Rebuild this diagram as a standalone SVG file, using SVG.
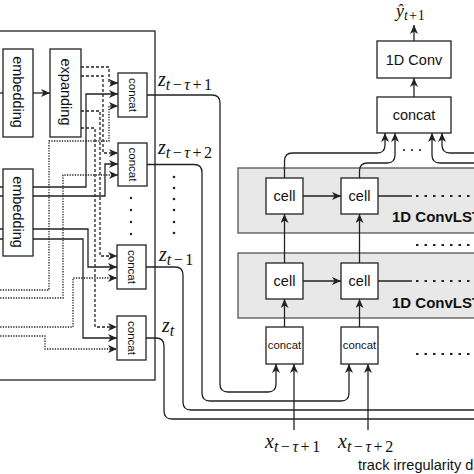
<svg xmlns="http://www.w3.org/2000/svg" width="474" height="474" viewBox="0 0 474 474">
<style>
.box{fill:#fff;stroke:#222;stroke-width:1.3}
.panel{fill:#e8e8e8;stroke:#555;stroke-width:1.3}
.ln{fill:none;stroke:#222;stroke-width:1.3}
.arr{marker-end:url(#ah)}
.dash{stroke-dasharray:3 2}
.dot{stroke-dasharray:1.3 1.3}
.dots{fill:none;stroke:#222;stroke-width:2.2;stroke-dasharray:2.5 6}
.sans{font-family:"Liberation Sans",Arial,sans-serif;fill:#111}
.bold{font-weight:bold}
.math{font-family:"Liberation Serif","Times New Roman",serif;font-style:italic;fill:#111}
.up{font-style:normal}
</style>
<defs>
<marker id="ah" markerUnits="userSpaceOnUse" markerWidth="10" markerHeight="8" refX="9" refY="4" orient="auto">
<path d="M0,0 L9,4 L0,8 L2.5,4 z" fill="#222"/>
</marker>
</defs>

<rect id="outer" x="-10" y="31" width="165" height="349" fill="none" stroke="#222" stroke-width="1.3"/>

<g id="panel1"><rect class="panel" x="238" y="168" width="250" height="65"/>
<text class="sans bold" x="392" y="222" font-size="15">1D ConvLSTM</text></g>
<g id="panel2"><rect class="panel" x="238" y="253" width="250" height="65"/>
<text class="sans bold" x="392" y="308" font-size="15">1D ConvLSTM</text></g>

<g id="connectors">
<path class="ln" d="M-5,93 H3"/>
<path class="ln" d="M-5,187 H3 M-5,196 H3 M-5,229 H3 M-5,239 H3"/>
<path class="ln arr" d="M33,93 H50"/>
<path class="ln dash arr" d="M81,67 H109 V83 H118"/>
<path class="ln arr" d="M33,187 H86 V94 H118"/>
<path class="ln dot arr" d="M-5,290 H49 V141 H109 V106 H118"/>
<path class="ln dash arr" d="M81,76 H103 V153 H118"/>
<path class="ln arr" d="M33,196 H105 V164 H118"/>
<path class="ln dot arr" d="M-5,298 H63 V175 H118"/>
<path class="ln dash arr" d="M81,111 H100 V256 H117"/>
<path class="ln arr" d="M33,229 H88 V267 H117"/>
<path class="ln dot arr" d="M-5,327 H73 V278 H117"/>
<path class="ln dash arr" d="M81,128 H95 V327 H117"/>
<path class="ln arr" d="M33,239 H83 V338 H117"/>
<path class="ln dot arr" d="M-5,336 H45 V349 H117"/>
<path class="ln arr" d="M147,95 H212 Q220,95 220,103 V384 Q220,392 228,392 H268 Q276,392 276,384 V364"/>
<path class="ln arr" d="M147,164.5 H194 Q202,164.5 202,172.5 V393 Q202,401 210,401 H341 Q349,401 349,393 V364"/>
<path class="ln" d="M146,267 H175 Q183,267 183,275 V402 Q183,410 191,410 H480"/>
<path class="ln" d="M146,338 H156 Q164,338 164,346 V411 Q164,419 172,419 H480"/>
<path class="ln arr" d="M294,430 V364"/>
<path class="ln arr" d="M368,430 V364"/>
<path class="ln arr" d="M284.5,327 V299"/>
<path class="ln arr" d="M359.5,327 V299"/>
<path class="ln arr" d="M284.5,263 V214"/>
<path class="ln arr" d="M359.5,263 V214"/>
<path class="ln arr" d="M303,196 H341"/>
<path class="ln arr" d="M303,281 H341"/>
<path class="ln" d="M378,196 H412 M378,281 H412"/>
<path class="dots" d="M416,196 H474 M416,281 H474"/>
<path class="dots" d="M416,245 H474 M416,354 H474"/>
<path class="ln arr" d="M284.5,178 V161 Q284.5,153 292.5,153 H377 Q385,153 385,145 V133"/>
<path class="ln arr" d="M359.5,178 V171 Q359.5,163 367.5,163 H387 Q395,163 395,155 V133"/>
<path class="ln arr" d="M480,163 H440 Q432,163 432,155 V133"/>
<path class="ln arr" d="M480,153 H450 Q442,153 442,145 V133"/>
<path class="ln arr" d="M414,97 V78"/>
<path class="ln arr" d="M414,41 V25"/>
</g>

<g id="dots-misc" fill="#222">
<circle cx="404" cy="150" r="1.1"/><circle cx="412" cy="150" r="1.1"/><circle cx="420" cy="150" r="1.1"/>
<circle cx="131" cy="198" r="1.2"/><circle cx="131" cy="210" r="1.2"/><circle cx="131" cy="222" r="1.2"/><circle cx="131" cy="234" r="1.2"/>
<circle cx="174" cy="177" r="1.3"/><circle cx="174" cy="188" r="1.3"/><circle cx="174" cy="199" r="1.3"/><circle cx="174" cy="210" r="1.3"/><circle cx="174" cy="222" r="1.3"/><circle cx="174" cy="233" r="1.3"/>
</g>

<g id="embedding1"><rect class="box" x="3" y="49" width="30" height="88"/>
<text class="sans" font-size="14.5" text-anchor="middle" dominant-baseline="central" transform="translate(18,92) rotate(90)">embedding</text></g>
<g id="expanding"><rect class="box" x="50" y="49" width="31" height="88"/>
<text class="sans" font-size="14.5" text-anchor="middle" dominant-baseline="central" transform="translate(65.5,92) rotate(90)">expanding</text></g>
<g id="embedding2"><rect class="box" x="3" y="169" width="30" height="87"/>
<text class="sans" font-size="14.5" text-anchor="middle" dominant-baseline="central" transform="translate(18,212) rotate(90)">embedding</text></g>

<g id="concatL1"><rect class="box" x="118" y="73" width="29" height="44"/>
<text class="sans" font-size="11.5" text-anchor="middle" dominant-baseline="central" transform="translate(132.5,95) rotate(90)">concat</text></g>
<g id="concatL2"><rect class="box" x="118" y="143" width="29" height="43"/>
<text class="sans" font-size="11.5" text-anchor="middle" dominant-baseline="central" transform="translate(132.5,164.5) rotate(90)">concat</text></g>
<g id="concatL3"><rect class="box" x="117" y="245" width="29" height="44"/>
<text class="sans" font-size="11.5" text-anchor="middle" dominant-baseline="central" transform="translate(131.5,267) rotate(90)">concat</text></g>
<g id="concatL4"><rect class="box" x="117" y="316" width="29" height="44"/>
<text class="sans" font-size="11.5" text-anchor="middle" dominant-baseline="central" transform="translate(131.5,338) rotate(90)">concat</text></g>

<g id="cell11"><rect class="box" x="266" y="178" width="37" height="36"/><text class="sans" font-size="14.5" x="284.5" y="201" text-anchor="middle">cell</text></g>
<g id="cell12"><rect class="box" x="341" y="178" width="37" height="36"/><text class="sans" font-size="14.5" x="359.5" y="201" text-anchor="middle">cell</text></g>
<g id="cell21"><rect class="box" x="266" y="263" width="37" height="36"/><text class="sans" font-size="14.5" x="284.5" y="286" text-anchor="middle">cell</text></g>
<g id="cell22"><rect class="box" x="341" y="263" width="37" height="36"/><text class="sans" font-size="14.5" x="359.5" y="286" text-anchor="middle">cell</text></g>

<g id="concatB1"><rect class="box" x="266" y="327" width="37" height="37"/><text class="sans" font-size="11.3" x="284.5" y="349" text-anchor="middle">concat</text></g>
<g id="concatB2"><rect class="box" x="341" y="327" width="37" height="37"/><text class="sans" font-size="11.3" x="359.5" y="349" text-anchor="middle">concat</text></g>

<g id="concatTop"><rect class="box" x="377" y="97" width="74" height="36"/><text class="sans" font-size="14.5" x="414" y="120" text-anchor="middle">concat</text></g>
<g id="conv1d"><rect class="box" x="377" y="41" width="74" height="37"/><text class="sans" font-size="14.5" x="414" y="65" text-anchor="middle">1D Conv</text></g>

<g id="labels">
<text class="math" x="158" y="86" font-size="20">z<tspan dy="4" font-size="16">t<tspan class="up" dx="2.5">−</tspan><tspan dx="2.5">τ</tspan><tspan class="up" dx="2.5">+</tspan><tspan class="up" dx="2.5">1</tspan></tspan></text>
<text class="math" x="158" y="154" font-size="20">z<tspan dy="4" font-size="16">t<tspan class="up" dx="2.5">−</tspan><tspan dx="2.5">τ</tspan><tspan class="up" dx="2.5">+</tspan><tspan class="up" dx="2.5">2</tspan></tspan></text>
<text class="math" x="159" y="261" font-size="20">z<tspan dy="4" font-size="16">t<tspan class="up" dx="2.5">−</tspan><tspan class="up" dx="2.5">1</tspan></tspan></text>
<text class="math" x="162" y="332" font-size="20">z<tspan dy="4" font-size="16">t</tspan></text>
<text class="math" x="265" y="448" font-size="20">x<tspan dy="4" font-size="16">t<tspan class="up" dx="2.5">−</tspan><tspan dx="2.5">τ</tspan><tspan class="up" dx="2.5">+</tspan><tspan class="up" dx="2.5">1</tspan></tspan></text>
<text class="math" x="338" y="448" font-size="20">x<tspan dy="4" font-size="16">t<tspan class="up" dx="2.5">−</tspan><tspan dx="2.5">τ</tspan><tspan class="up" dx="2.5">+</tspan><tspan class="up" dx="2.5">2</tspan></tspan></text>
<text class="math" x="396" y="17" font-size="18">ŷ<tspan dy="3" font-size="14">t<tspan class="up" dx="1">+</tspan><tspan class="up" dx="1">1</tspan></tspan></text>
<text class="sans" x="358" y="470" font-size="14.5">track irregularity data</text>
</g>
</svg>
